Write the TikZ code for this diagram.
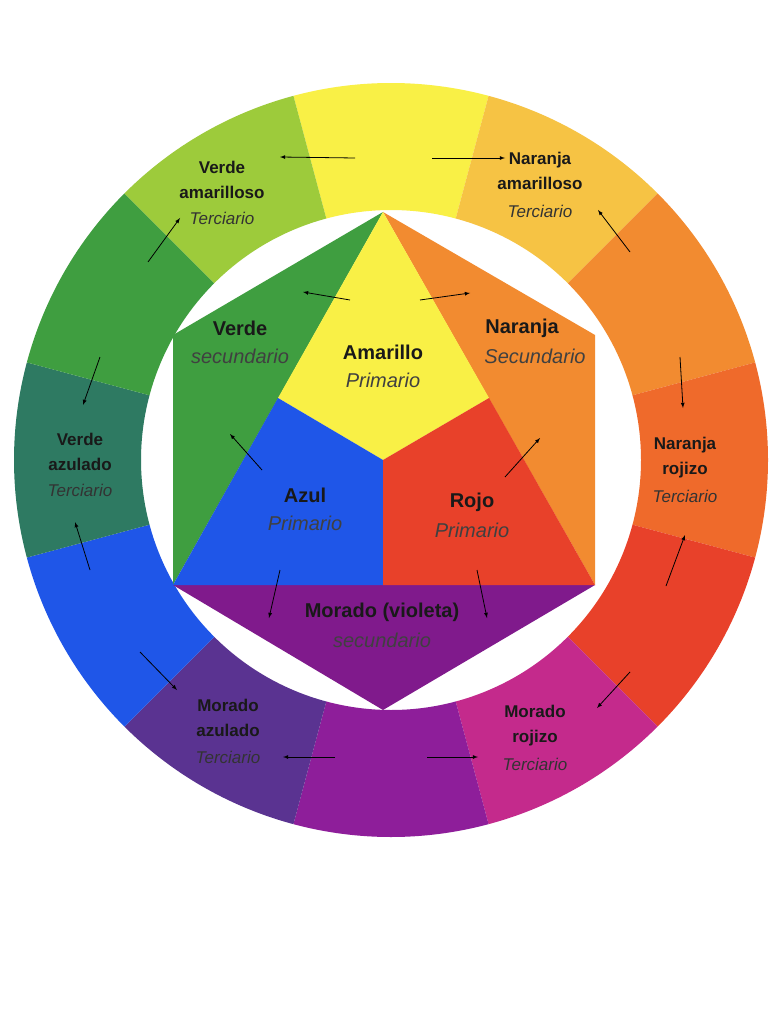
\documentclass[tikz,border=0pt]{standalone}
\usepackage{fontspec}
\setmainfont{Liberation Sans}
\begin{document}
\begin{tikzpicture}[x=1pt,y=-1pt,
  lab/.style={align=center,font=\bfseries\fontsize{17}{25}\selectfont,text=black!90},
  ter/.style={font=\itshape\fontsize{17}{25}\selectfont,text=black!80},
  ilab/.style={align=center,font=\bfseries\fontsize{20}{28}\selectfont,text=black!90},
  itl/.style={font=\itshape\fontsize{20}{28}\selectfont,text=black!75},
  arr/.style={-latex,thick,black}]
\useasboundingbox (0,0) rectangle (768,1024);
\fill[white] (0,0) rectangle (768,1024);
% ring
\begin{scope}[shift={(391,460)},x=1pt,y=1pt]
\foreach \c [count=\i from 0] in {F9F046,F6C344,F28B30,EF6A2B,E8412A,C42A8C,8E1E9A,5A3391,1F56E8,2E7A62,3F9E40,9DCB3B}{
  \definecolor{seg}{HTML}{\c}
  \pgfmathsetmacro{\a}{105-30*\i}
  \pgfmathsetmacro{\b}{75-30*\i}
  \fill[seg] (\a:377) arc[start angle=\a,end angle=\b,radius=377] -- (\b:250) arc[start angle=\b,end angle=\a,radius=250] -- cycle;
}
\end{scope}
% hexagon points
\coordinate (T) at (383,212);
\coordinate (RT) at (595,335);
\coordinate (RB) at (595,585);
\coordinate (B) at (383,710);
\coordinate (LB) at (173,585);
\coordinate (LT) at (173,335);
\coordinate (M) at (383,460);
\coordinate (ML) at (278,398);
\coordinate (MR) at (489,398);
\coordinate (MB) at (383,585);
\fill[fill={rgb,255:red,63;green,158;blue,64}] (T) -- (LT) -- (LB) -- cycle;
\fill[fill={rgb,255:red,242;green,139;blue,48}] (T) -- (RT) -- (RB) -- cycle;
\fill[fill={rgb,255:red,128;green,26;blue,140}] (LB) -- (RB) -- (B) -- cycle;
\fill[fill={rgb,255:red,249;green,240;blue,70}] (T) -- (ML) -- (M) -- (MR) -- cycle;
\fill[fill={rgb,255:red,31;green,86;blue,232}] (LB) -- (ML) -- (M) -- (MB) -- cycle;
\fill[fill={rgb,255:red,232;green,65;blue,42}] (RB) -- (MR) -- (M) -- (MB) -- cycle;
% ring labels
\node[lab] (va) at (222,180) {Verde\\amarilloso};
\node[ter] (vat) at (222,218) {Terciario};
\node[lab] (na) at (540,171) {Naranja\\amarilloso};
\node[ter] (nat) at (540,211) {Terciario};
\node[lab] (vz) at (80,452) {Verde\\azulado};
\node[ter] (vzt) at (80,490) {Terciario};
\node[lab] (nr) at (685,458) {Naranja\\rojizo};
\node[ter] (nrt) at (685,496) {Terciario};
\node[lab] (ma) at (228,718) {Morado\\azulado};
\node[ter] (mat) at (228,757) {Terciario};
\node[lab] (mr) at (535,726) {Morado\\rojizo};
\node[ter] (mrt) at (535,764) {Terciario};
% inner labels
\node[ilab] (ve) at (240,328) {Verde};
\node[itl] (ves) at (240,356) {secundario};
\node[ilab] (am) at (383,352) {Amarillo};
\node[itl] (amp) at (383,380) {Primario};
\node[ilab] (nj) at (522,328) {Naranja};
\node[itl] (njs) at (535,356) {Secundario};
\node[ilab] (az) at (305,495) {Azul};
\node[itl] (azp) at (305,523) {Primario};
\node[ilab] (ro) at (472,502) {Rojo};
\node[itl] (rop) at (472,530) {Primario};
\node[ilab] (mo) at (382,612) {Morado (violeta)};
\node[itl] (mos) at (382,640) {secundario};
% arrow endpoints
\foreach \n/\x/\y/\X/\Y in {a1/355/158/280/157, a2/432/158/505/158, a3/630/252/598/210,
  a4/148/262/180/218, a5/100/357/83/405, a6/680/357/683/408, a7/90/570/75/522,
  a8/666/586/685/535, a9/140/652/177/690, a10/630/672/597/708, a11/335/757/283/757,
  a12/427/757/478/757, a13/350/300/303/292, a14/420/300/470/293, a15/262/470/230/434,
  a16/505/477/540/438, a17/280/570/269/618, a18/477/570/487/618}{
  \coordinate (\n s) at (\x,\y);
  \coordinate (\n e) at (\X,\Y);
  \draw[arr] (\n s) -- (\n e);
}
\end{tikzpicture}
\end{document}
